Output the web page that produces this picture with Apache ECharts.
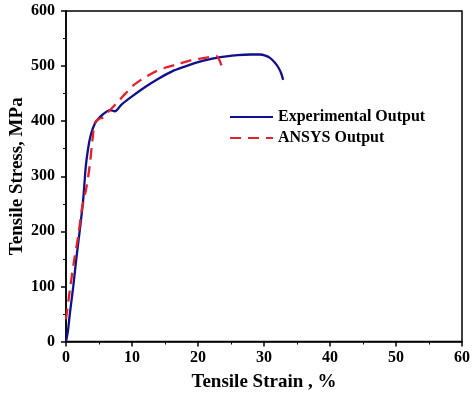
<!DOCTYPE html>
<html>
<head>
<meta charset="utf-8">
<script src="https://cdn.jsdelivr.net/npm/echarts@6/dist/echarts.min.js"></script>
<style>html,body{margin:0;padding:0;background:#fff}#c{width:474px;height:395px}</style>
</head>
<body>
<div id="c"></div>
<script>
// Experimental Output: [strain %, stress MPa]
var experimental = [[0,0],[0.3,20],[0.6,52],[1.1,100],[1.6,154],[2.1,203],[2.6,257],[3.0,318],[3.4,354],[3.7,372],[4.1,388],[4.6,400],[5.65,413],[6.7,420],[7.4,418],[8.4,430],[10,445],[12,462],[14,477],[16,490],[18,499],[20,507],[22,513],[24,517],[26,520],[28,521],[29.4,521],[30.2,519],[30.9,515],[31.6,507],[32.2,497],[32.6,487],[32.9,475]];
// ANSYS Output: [strain %, stress MPa]
var ansys = [[0,40],[0.6,95],[1.2,145],[1.9,195],[2.4,240],[3.1,280],[3.6,320],[4.0,365],[4.4,398],[5.0,404],[5.7,407],[6.5,418],[7.7,433],[9,450],[10.2,465],[11.5,476],[13.2,488],[15,497],[16.8,503],[18.5,509],[19.8,512],[21.5,516],[22.8,518],[23.2,512],[23.6,500]];
var seriesNames = ['Experimental Output', 'ANSYS Output'];
var xTicks = {min: 0, max: 60, interval: 10};
var yTicks = {min: 0, max: 600, interval: 100};
var xName = 'Tensile Strain , %';
var yName = 'Tensile Stress, MPa';

var font = '"Liberation Serif", "Times New Roman", serif';
var chart = echarts.init(document.getElementById('c'));
chart.setOption({
  animation: false,
  backgroundColor: '#fff',
  grid: {left: 66, top: 11, right: 12, bottom: 53.5, containLabel: false, outerBoundsMode: 'none',
         show: true, borderColor: '#000', borderWidth: 1.5, backgroundColor: 'transparent'},
  legend: {
    orient: 'vertical', left: 224, top: 104,
    itemWidth: 43, itemHeight: 14, itemGap: 5,
    itemStyle: {opacity: 0},
    textStyle: {fontFamily: font, fontWeight: 'bold', fontSize: 16, color: '#000'},
    data: seriesNames
  },
  xAxis: {
    type: 'value', min: xTicks.min, max: xTicks.max, interval: xTicks.interval,
    name: xName, nameLocation: 'middle', nameGap: 31, nameMoveOverlap: false,
    nameTextStyle: {fontFamily: font, fontWeight: 'bold', fontSize: 19, color: '#000'},
    axisLine: {lineStyle: {color: '#000', width: 1.5}},
    axisTick: {inside: false, length: 5, lineStyle: {color: '#000', width: 1.5}},
    minorTick: {show: true, splitNumber: 2, length: 3, lineStyle: {color: '#000', width: 1}},
    splitLine: {show: false},
    axisLabel: {margin: 8, fontFamily: font, fontWeight: 'bold', fontSize: 16, color: '#000'}
  },
  yAxis: {
    type: 'value', min: yTicks.min, max: yTicks.max, interval: yTicks.interval,
    name: yName, nameLocation: 'middle', nameGap: 39, nameMoveOverlap: false,
    nameTextStyle: {fontFamily: font, fontWeight: 'bold', fontSize: 19, color: '#000'},
    axisLine: {show: true, lineStyle: {color: '#000', width: 1.5}},
    axisTick: {show: true, inside: false, length: 5, lineStyle: {color: '#000', width: 1.5}},
    minorTick: {show: true, splitNumber: 2, length: 3, lineStyle: {color: '#000', width: 1}},
    splitLine: {show: false},
    axisLabel: {margin: 11, fontFamily: font, fontWeight: 'bold', fontSize: 16, color: '#000'}
  },
  series: [
    {name: seriesNames[0], type: 'line', data: experimental, showSymbol: false, symbol: 'none', smooth: 0.3,
     lineStyle: {color: '#10108c', width: 2.3}, itemStyle: {color: '#10108c'}},
    {name: seriesNames[1], type: 'line', data: ansys, showSymbol: false, symbol: 'none', smooth: 0.3,
     lineStyle: {color: '#e3202a', width: 2.3, type: [11, 7]}, itemStyle: {color: '#e3202a'}}
  ]
});
</script>
</body>
</html>
